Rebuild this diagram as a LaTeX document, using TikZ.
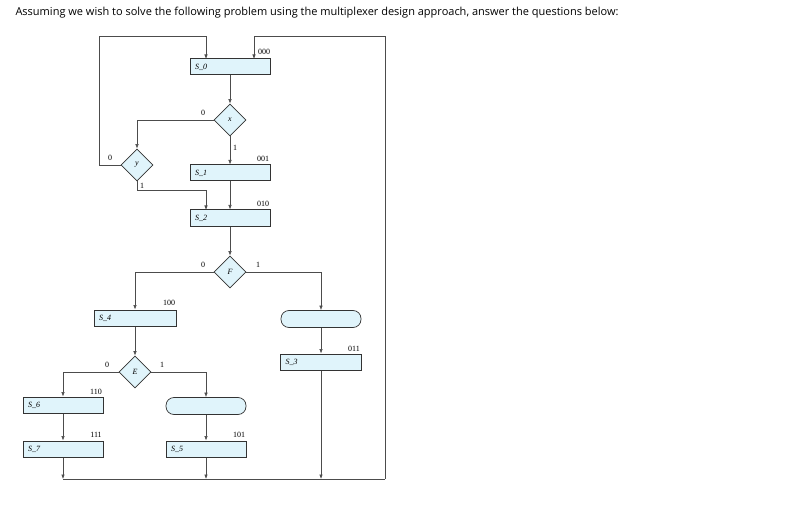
\documentclass[tikz,border=0pt]{standalone}
\usepackage{fontspec}
\setmainfont{Liberation Serif}
\newfontfamily\hdr{Open Sans}
\usetikzlibrary{arrows.meta,shapes.geometric}
\definecolor{boxfill}{HTML}{E0F4FB}
\begin{document}
\begin{tikzpicture}[x=1pt,y=-1pt,
  sbox/.style={draw=black!80,line width=1pt,fill=boxfill,minimum width=80pt,minimum height=16pt,inner sep=0pt},
  rbox/.style={draw=black!80,line width=0.7pt,fill=boxfill,minimum width=80pt,minimum height=17pt,rounded corners=8pt},
  dia/.style={draw=black!80,line width=0.7pt,fill=boxfill,diamond,minimum width=32pt,minimum height=32pt,inner sep=0pt,font=\fontsize{8}{9}\selectfont\itshape},
  lbl/.style={font=\fontsize{8}{9}\selectfont\itshape},
  num/.style={font=\fontsize{8}{9}\selectfont},
  ln/.style={draw=black!70,line width=0.6pt},
  ar/.style={ln,-{Latex[length=4.5pt,width=3.5pt]}}]
\useasboundingbox (0,0) rectangle (791,521);
\node[anchor=west,font=\hdr\fontsize{11}{13}\selectfont] (hd) at (12,13) {Assuming we wish to solve the following problem using the multiplexer design approach, answer the questions below:};
\node[sbox] (s0) at (230,67) {};
\node[lbl,anchor=west] at (s0.west) {~S\_0};
\node[dia] (x) at (230,120) {x};
\node[sbox] (s1) at (230,173) {};
\node[lbl,anchor=west] at (s1.west) {~S\_1};
\node[sbox] (s2) at (230,218) {};
\node[lbl,anchor=west] at (s2.west) {~S\_2};
\node[dia] (y) at (137,165) {y};
\node[dia] (f) at (230,272) {F};
\node[sbox,minimum width=82pt] (s4) at (135,318) {};
\node[lbl,anchor=west] at (s4.west) {~S\_4};
\node[rbox] (r1) at (321,319) {};
\node[sbox,minimum width=81pt] (s3) at (321,362) {};
\node[lbl,anchor=west] at (s3.west) {~S\_3};
\node[dia] (e) at (135,372) {E};
\node[sbox] (s6) at (63,405) {};
\node[lbl,anchor=west] at (s6.west) {~S\_6};
\node[sbox] (s7) at (63,449) {};
\node[lbl,anchor=west] at (s7.west) {~S\_7};
\node[rbox] (r2) at (206,406) {};
\node[sbox] (s5) at (206,449) {};
\node[lbl,anchor=west] at (s5.west) {~S\_5};
\coordinate (b1) at (63,479);
\coordinate (b2) at (206,479);
\coordinate (b3) at (321,479);
\coordinate (br) at (385,479);
% connectors
\draw[ar] (s0) -- (x);
\draw[ar] (x) -- (s1);
\draw[ar] (s1) -- (s2);
\draw[ar] (s2) -- (f);
\draw[ar] (x.west) -| (y.north);
\draw[ar] (y.south) -- (137,190) -| (206,210);
\draw[ar] (y.west) -- (99,165) -- (99,36) -| (206,59);
\draw[ar] (f.west) -| (s4.north);
\draw[ar] (f.east) -| (r1.north);
\draw[ar] (s4) -- (e);
\draw[ar] (e.west) -| (s6.north);
\draw[ar] (e.east) -| (r2.north);
\draw[ar] (s6) -- (s7);
\draw[ar] (r2) -- (s5);
\draw[ar] (r1) -- (s3);
\draw[ar] (s7) -- (b1);
\draw[ar] (s5) -- (b2);
\draw[ar] (s3) -- (b3);
\draw[ln] (b1) -- (br);
\draw[ar] (br) -- (385,36) -| (254,59);
% labels
\node[num] at (203,113) {0};
\node[num] at (235,148) {1};
\node[num] at (110,158) {0};
\node[num] at (142,186) {1};
\node[num] at (203,265) {0};
\node[num] at (258,265) {1};
\node[num] at (107,365) {0};
\node[num] at (162,365) {1};
\node[num] at (264,52) {000};
\node[num] at (263,159) {001};
\node[num] at (263,204) {010};
\node[num] at (169,303) {100};
\node[num] at (354,349) {011};
\node[num] at (96,392) {110};
\node[num] at (96,435) {111};
\node[num] at (239,435) {101};
\end{tikzpicture}
\end{document}
